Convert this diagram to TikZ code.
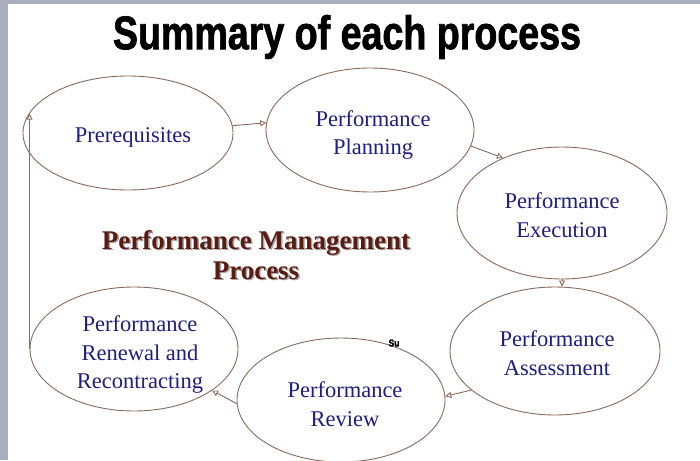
\documentclass[tikz,border=0pt]{standalone}
\usepackage{fontspec}
\setmainfont{Liberation Serif}
\newfontfamily\titlefont[FakeBold=1.8]{Liberation Sans}
\usetikzlibrary{shapes.geometric,arrows.meta}
\definecolor{framegray}{HTML}{A9ADBC}
\definecolor{rimbrown}{HTML}{8A6A5C}
\definecolor{inknavy}{HTML}{1E1E80}
\definecolor{maroon}{HTML}{5A1C12}
\tikzset{
  stage/.style={ellipse, draw=rimbrown, line width=0.9pt, inner sep=0pt},
  stagetext/.style={text=inknavy, align=center, font=\fontsize{22.5}{28.5}\selectfont},
  flow/.style={draw=rimbrown, line width=0.9pt,
    -{Triangle[open, length=6pt, width=6pt]}}
}
\begin{document}
\begin{tikzpicture}[x=1pt, y=-1pt]
    \useasboundingbox (0,0) rectangle (700,460);
    % slide frame
    \fill[framegray] (0,0) rectangle (700,4);
    \fill[framegray] (0,0) rectangle (8,460);

    % title
    \node[font=\titlefont\bfseries\fontsize{47}{50}\selectfont] (title) at (347,37)
        {\scalebox{0.8}[1]{Summary of each process}};

    % the six stages
    \node[stage, minimum width=210pt, minimum height=114pt,
          label={[stagetext, yshift=-4pt, xshift=5pt]center:Prerequisites}] (pre) at (128,133) {};
    \node[stage, minimum width=208pt, minimum height=124pt,
          label={[stagetext, yshift=-5pt, xshift=3pt]center:Performance\\Planning}] (plan) at (370,130) {};
    \node[stage, minimum width=210pt, minimum height=132pt,
          label={[stagetext, yshift=-2pt]center:Performance\\Execution}] (exec) at (562,213) {};
    \node[stage, minimum width=210pt, minimum height=128pt,
          label={[stagetext, yshift=-2pt, xshift=2pt]center:Performance\\Assessment}] (asse) at (555,351) {};
    \node[stage, minimum width=208pt, minimum height=124pt,
          label={[stagetext, yshift=-4pt, xshift=4pt]center:Performance\\Review}] (rev) at (341,400) {};
    \node[stage, minimum width=208pt, minimum height=124pt,
          label={[stagetext, yshift=-6pt, xshift=6pt]center:Performance\\Renewal and\\Recontracting}] (ren) at (134,349) {};

    % centre caption with its shadow
    \node[text=black!35, align=center, font=\bfseries\fontsize{27}{30}\selectfont] at (257.5,256.5)
        {Performance Management\\Process};
    \node[text=maroon, align=center, font=\bfseries\fontsize{27}{30}\selectfont] (caption) at (256,255)
        {Performance Management\\Process};
    \node[font=\titlefont\bfseries\fontsize{10}{11}\selectfont] (su) at (394,343) {\scalebox{0.85}[1]{Su}};

    % connectors
    \draw[flow] (pre.4) -- (plan.176);
    \draw[flow] (plan.-9) -- (exec.137);
    \draw[flow] (exec.south) -- (exec.south |- asse.north);
    \draw[flow] (asse.205) -- (rev.2);
    \draw[flow] (rev.182) -- (ren.-28);
    \draw[flow] (ren.west) -- (ren.west |- pre.169);
\end{tikzpicture}
\end{document}
